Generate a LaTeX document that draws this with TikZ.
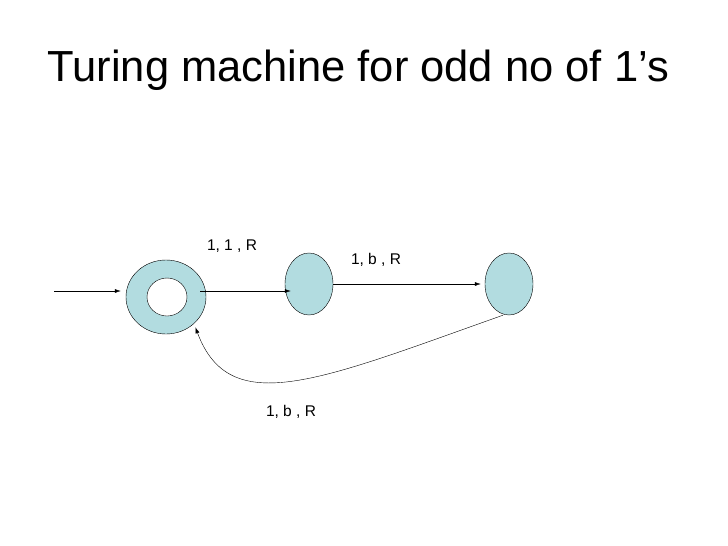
\documentclass[tikz,border=0pt]{standalone}
\usepackage{fontspec}
\setmainfont{Liberation Sans}
\usetikzlibrary{shapes.geometric,arrows.meta,calc}
\definecolor{statefill}{RGB}{178,220,224}
\tikzset{
  state/.style={ellipse, draw, fill=statefill, inner sep=0pt},
  trans/.style={-{Latex[length=6pt,width=4pt]}},
  lbl/.style={font=\fontsize{15.5}{18}\selectfont}
}
\begin{document}
\begin{tikzpicture}[x=1pt,y=-1pt]
\useasboundingbox (0,0) rectangle (728,546);
\node[anchor=west, font=\fontsize{43.5}{50}\selectfont] (title) at (44,70) {Turing machine for odd no of 1’s};

\node[state, minimum width=80pt, minimum height=74pt] (q0) at (166,297) {};
\node[ellipse, draw, fill=white, minimum width=40pt, minimum height=38pt] (q0in) at (167,297) {};
\node[state, minimum width=48pt, minimum height=62pt] (q1) at (309,284) {};
\node[state, minimum width=48pt, minimum height=62pt] (q2) at (509,284) {};

\coordinate (start) at (54,291);
\draw[trans] (start) -- ($(q0.west)+(-5,-6)$);
\draw[trans] ($(q0.east)+(-6,-6)$) -- ($(q1.west)+(6,7)$);
\draw[trans] (q1.east) -- ($(q2.west)+(-4,0)$);
\draw[trans] ($(q2.south)+(-6,0)$) .. controls (320,380) and (230,420) .. ($(q0.south east)+(1,4)$);

\node[lbl] (l01) at (232,246) {1, 1 , R};
\node[lbl] (l12) at (376,260) {1, b , R};
\node[lbl] (l20) at (291,412) {1, b , R};
\end{tikzpicture}
\end{document}
